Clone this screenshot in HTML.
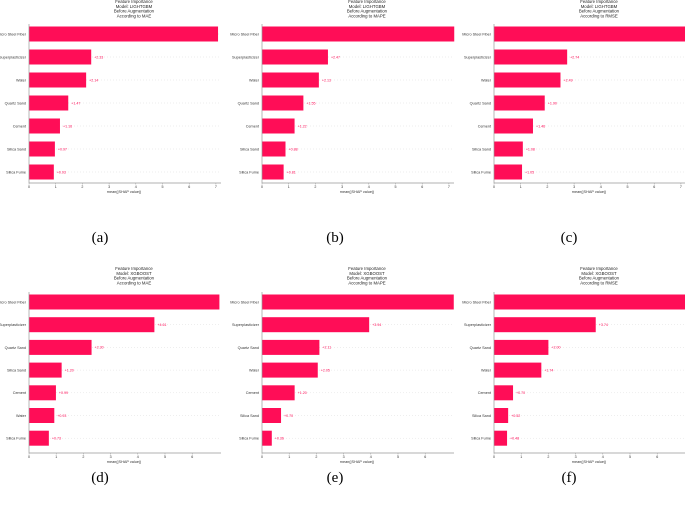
<!DOCTYPE html>
<html><head><meta charset="utf-8"><style>
body{margin:0;background:#fff;}
svg{display:block;font-family:"Liberation Sans",sans-serif;}
</style></head><body>
<svg id="fig" width="685" height="514" viewBox="0 0 685 514"></svg>
<script>
const modelsA = ["LIGHTGBM","LIGHTGBM","LIGHTGBM","XGBOOST","XGBOOST","XGBOOST"];
const metrics = ["MAE","MAPE","RMSE","MAE","MAPE","RMSE"];
const captions = ["(a)","(b)","(c)","(d)","(e)","(f)"];
const featuresA = ["Micro Steel Fiber","Superplasticizer","Water","Quartz Sand","Cement","Silica Sand","Silica Fume"];
const featuresB = ["Micro Steel Fiber","Superplasticizer","Water","Quartz Sand","Cement","Silica Sand","Silica Fume"];
const featuresC = ["Micro Steel Fiber","Superplasticizer","Water","Quartz Sand","Cement","Silica Sand","Silica Fume"];
const featuresD = ["Micro Steel Fiber","Superplasticizer","Quartz Sand","Silica Sand","Cement","Water","Silica Fume"];
const featuresE = ["Micro Steel Fiber","Superplasticizer","Quartz Sand","Water","Cement","Silica Sand","Silica Fume"];
const featuresF = ["Micro Steel Fiber","Superplasticizer","Quartz Sand","Water","Cement","Silica Sand","Silica Fume"];
const valuesA = [7.08,2.33,2.14,1.47,1.16,0.97,0.93];
const valuesB = [7.2,2.47,2.13,1.55,1.22,0.88,0.81];
const valuesC = [7.2,2.74,2.49,1.9,1.46,1.08,1.05];
const valuesD = [7.0,4.61,2.3,1.2,0.99,0.93,0.73];
const valuesE = [7.05,3.94,2.11,2.05,1.2,0.7,0.36];
const valuesF = [7.1,3.74,2.0,1.74,0.7,0.52,0.48];
const ticksTop = [0,1,2,3,4,5,6,7];
const ticksBot = [0,1,2,3,4,5,6];

const features=[featuresA,featuresB,featuresC,featuresD,featuresE,featuresF];
const values=[valuesA,valuesB,valuesC,valuesD,valuesE,valuesF];
const NS="http://www.w3.org/2000/svg";
const svg=document.getElementById('fig');
function mk(tag,attrs,parent,text){const e=document.createElementNS(NS,tag);for(const k in attrs)e.setAttribute(k,attrs[k]);if(text!==undefined)e.textContent=text;(parent||svg).appendChild(e);return e;}
const axX=[29,262,494];
for(let p=0;p<6;p++){
  const col=p%3,row=Math.floor(p/3);
  const x0=axX[col];
  const scale=row===0?26.7:27.2;
  const firstY=row===0?34:302;
  const step=row===0?23:22.7;
  const barH=15;
  const axisTop=row===0?24:292;
  const axisBot=row===0?183:453;
  const sx=v=>x0+v*scale;
  const g=mk('g',{});
  
  
  const tc=x0+105;
  const titleTop=row===0?3:270;
  const lines=["Feature Importance","Model: "+modelsA[p],"Before Augmentation","According to "+metrics[p]];
  lines.forEach((t,i)=>{const e=mk('text',{x:tc,y:titleTop+i*4.8,'font-size':4.3,'text-anchor':'middle',fill:'#222'},g,t);
    });
  const vals=values[p],feats=features[p];
  vals.forEach((v,i)=>{
    const cy=firstY+i*step;
    const gl=mk('line',{x1:x0,x2:x0+192,y1:cy,y2:cy,stroke:'#ddd','stroke-width':0.5,'stroke-dasharray':'1,2'},g);
    
    const r=mk('rect',{x:x0,y:cy-barH/2,width:Math.max(0,sx(v)-x0),height:barH,fill:'#ff0d57'},g);
    
    
    const lb=mk('text',{x:x0-3,y:cy+1.4,'font-size':3.8,'text-anchor':'end',fill:'#333'},g,feats[i]);
    
    if(i>0){const vt=mk('text',{x:sx(v)+3,y:cy+1.3,'font-size':3.6,fill:'#ff0d57'},g,'+'+v.toFixed(2));
      }
  });
  const ya=mk('line',{x1:x0,x2:x0,y1:axisTop,y2:axisBot,stroke:'#999','stroke-width':0.7},g);
  
  const xa=mk('line',{x1:x0,x2:x0+192,y1:axisBot,y2:axisBot,stroke:'#999','stroke-width':0.7},g);
  
  (row===0?ticksTop:ticksBot).forEach(t=>{
    mk('line',{x1:sx(t),x2:sx(t),y1:axisBot,y2:axisBot+1.5,stroke:'#999','stroke-width':0.5},g);
    const tt=mk('text',{x:sx(t),y:axisBot+5,'font-size':3.6,'text-anchor':'middle',fill:'#333'},g,String(t));
    
  });
  const xl=mk('text',{x:x0+95,y:axisBot+10,'font-size':3.8,'text-anchor':'middle',fill:'#333'},g,'mean(|SHAP value|)');
  
  const cap=mk('text',{x:[100,335,569][col],y:row===0?242:482,'font-size':15,'font-family':'Liberation Serif, serif','text-anchor':'middle',fill:'#000'},g,captions[p]);
  
}
</script>
</body></html>
